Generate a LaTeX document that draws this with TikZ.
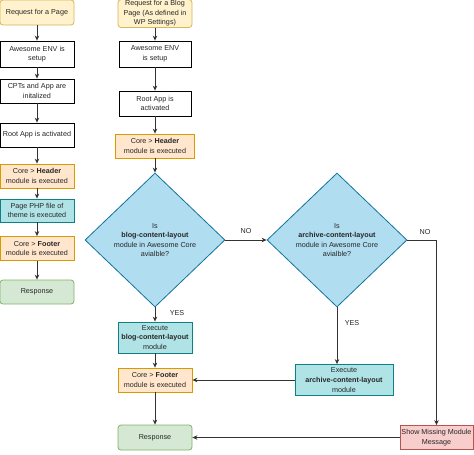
\documentclass[tikz,border=0pt]{standalone}
\usepackage{fontspec}
\setmainfont{Liberation Sans}
\usetikzlibrary{shapes.geometric,arrows.meta}
\definecolor{yfill}{HTML}{FFF2CC}\definecolor{ydraw}{HTML}{D6B656}
\definecolor{ofill}{HTML}{FFE6CC}\definecolor{odraw}{HTML}{D79B00}
\definecolor{tfill}{HTML}{B0E3E6}\definecolor{tdraw}{HTML}{0E8088}
\definecolor{gfill}{HTML}{D5E8D4}\definecolor{gdraw}{HTML}{82B366}
\definecolor{bfill}{HTML}{B1DDF0}\definecolor{bdraw}{HTML}{10739E}
\definecolor{rfill}{HTML}{F8CECC}\definecolor{rdraw}{HTML}{B85450}
\definecolor{linec}{HTML}{333333}
\tikzset{
  base/.style={draw, line width=0.8pt, align=center, inner sep=1pt,
    font=\fontsize{7.2}{9.6}\selectfont, text=black!85},
  plainbox/.style={base, draw=black, fill=white},
  startbox/.style={base, draw=ydraw, fill=yfill, rounded corners=3pt},
  corebox/.style={base, draw=odraw, fill=ofill},
  tealbox/.style={base, draw=tdraw, fill=tfill},
  endbox/.style={base, draw=gdraw, fill=gfill, rounded corners=3pt},
  errbox/.style={base, draw=rdraw, fill=rfill},
  decision/.style={base, diamond, draw=bdraw, fill=bfill, inner sep=0pt,
    minimum width=140pt, minimum height=134pt},
  flow/.style={draw=linec, line width=0.8pt, -{Stealth[length=5pt,width=4.5pt]}},
  lbl/.style={font=\fontsize{7.2}{9.6}\selectfont, text=black!85, inner sep=0pt},
  sz/.style 2 args={minimum width=#1pt, minimum height=#2pt}
}
\begin{document}
\begin{tikzpicture}[x=1pt,y=-1pt]
\useasboundingbox (0,0) rectangle (474,455);
% left column
\node[startbox, sz={74}{25}] (req1) at (37,12.5) {Request for a Page};
\node[plainbox, sz={74}{26}] (env1) at (37,54) {Awesome ENV is\\setup};
\node[plainbox, sz={74}{24}] (cpt) at (37,91) {CPTs and App are\\initalized};
\node[plainbox, sz={74}{24}] (root1) at (37,135) {Root App is activated};
\node[corebox, sz={74}{24}] (hdr1) at (37,176) {Core > \textbf{Header}\\module is executed};
\node[tealbox, sz={74}{23}] (php) at (37,210.5) {Page PHP file of\\theme is executed};
\node[corebox, sz={74}{24}] (ftr1) at (37,248.5) {Core > \textbf{Footer}\\module is executed};
\node[endbox, sz={74}{24}] (resp1) at (37,292) {Response};
\draw[flow] (req1) -- (env1);
\draw[flow] (env1) -- (cpt);
\draw[flow] (cpt) -- (root1);
\draw[flow] (root1) -- (hdr1);
\draw[flow] (hdr1) -- (php);
\draw[flow] (php) -- (ftr1);
\draw[flow] (ftr1) -- (resp1);
% middle column
\node[startbox, sz={74}{27}] (req2) at (155,13.5) {Request for a Blog\\Page (As defined in\\WP Settings)};
\node[plainbox, sz={72}{26}] (env2) at (155,54) {Awesome ENV\\is setup};
\node[plainbox, sz={72}{25}] (root2) at (155,103.5) {Root App is\\activated};
\node[corebox, sz={79}{24}] (hdr2) at (155,146) {Core > \textbf{Header}\\module is executed};
\node[decision] (d1) at (155,240) {Is\\\textbf{blog-content-layout}\\module in Awesome Core\\avialble?};
\node[decision] (d2) at (337,240) {Is\\\textbf{archive-content-layout}\\module in Awesome Core\\avialble?};
\node[tealbox, sz={74}{31}] (exec1) at (155,337.5) {Execute\\\textbf{blog-content-layout}\\module};
\node[corebox, sz={74}{24}] (ftr2) at (155,380) {Core > \textbf{Footer}\\module is executed};
\node[endbox, sz={74}{25}] (resp2) at (155,437.5) {Response};
\node[tealbox, sz={98}{31}] (exec2) at (344,380) {Execute\\\textbf{archive-content-layout}\\module};
\node[errbox, sz={73}{24}] (miss) at (436.5,437.5) {Show Missing Module\\Message};
\draw[flow] (req2) -- (env2);
\draw[flow] (env2) -- (root2);
\draw[flow] (root2) -- (hdr2);
\draw[flow] (hdr2) -- (d1.north);
\draw[flow] (d1.east) -- node[lbl, above=6pt] {NO} (d2.west);
\draw[flow] (d1.south) -- (exec1.north);
\node[lbl] (yes1) at (177,313) {YES};
\draw[flow] (exec1) -- (ftr2);
\draw[flow] (ftr2) -- (resp2);
\draw[flow] (d2.south) -- (d2.south |- exec2.north);
\node[lbl] (yes2) at (352,323) {YES};
\draw[flow] (d2.east) -| (miss.north);
\node[lbl] (no2) at (425,232) {NO};
\draw[flow] (exec2.west) -- (ftr2.east);
\draw[flow] (miss.west) -- (resp2.east);
\end{tikzpicture}
\end{document}
